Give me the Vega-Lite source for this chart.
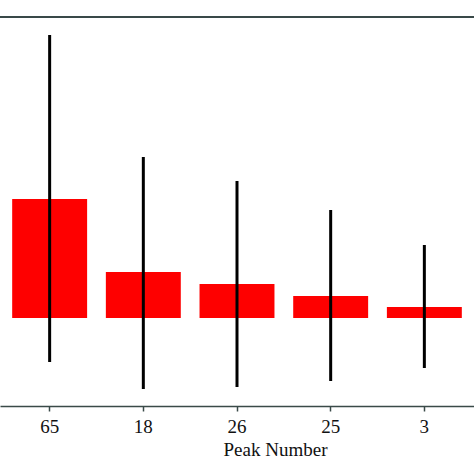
{
  "$schema": "https://vega.github.io/schema/vega-lite/v6.json",
  "width": 474,
  "height": 389,
  "autosize": {"type": "none"},
  "padding": {"left": 0, "top": 17, "right": 0, "bottom": 68},
  "background": "white",
  "config": {"view": {"stroke": null}, "font": "Liberation Serif"},
  "data": {"values": [
    {"peak": "65", "mean": 1.19, "lo": -0.44, "hi": 2.83},
    {"peak": "18", "mean": 0.46, "lo": -0.71, "hi": 1.61},
    {"peak": "26", "mean": 0.34, "lo": -0.69, "hi": 1.37},
    {"peak": "25", "mean": 0.22, "lo": -0.63, "hi": 1.08},
    {"peak": "3", "mean": 0.11, "lo": -0.50, "hi": 0.73}
  ]},
  "encoding": {
    "x": {
      "field": "peak", "type": "nominal", "sort": null,
      "scale": {"paddingInner": 0.2, "paddingOuter": 0.13},
      "axis": {
        "title": "Peak Number", "labelAngle": 0,
        "labelFont": "Liberation Serif", "labelFontSize": 19, "labelColor": "#111",
        "labelPadding": 6,
        "titleFont": "Liberation Serif", "titleFontSize": 19, "titleFontWeight": "normal", "titleColor": "#111",
        "titleX": 275, "titleY": 34, "titleAlign": "center", "titleBaseline": "top",
        "domainColor": "#3a4a48", "domainWidth": 1.5,
        "tickColor": "#3a4a48", "tickWidth": 1.5, "tickSize": 5
      }
    }
  },
  "layer": [
    {
      "mark": {"type": "bar", "color": "#fe0000"},
      "encoding": {
        "y": {"field": "mean", "type": "quantitative", "scale": {"domain": [-0.88, 3.01], "nice": false, "zero": false}, "axis": null}
      }
    },
    {
      "mark": {"type": "rule", "color": "black", "strokeWidth": 3},
      "encoding": {
        "y": {"field": "lo", "type": "quantitative"},
        "y2": {"field": "hi"}
      }
    },
    {
      "mark": {"type": "rule", "color": "#3a4a48", "strokeWidth": 1.5},
      "encoding": {
        "y": {"datum": 3.01, "type": "quantitative"},
        "x": {"value": 0},
        "x2": {"value": 474}
      }
    }
  ]
}
